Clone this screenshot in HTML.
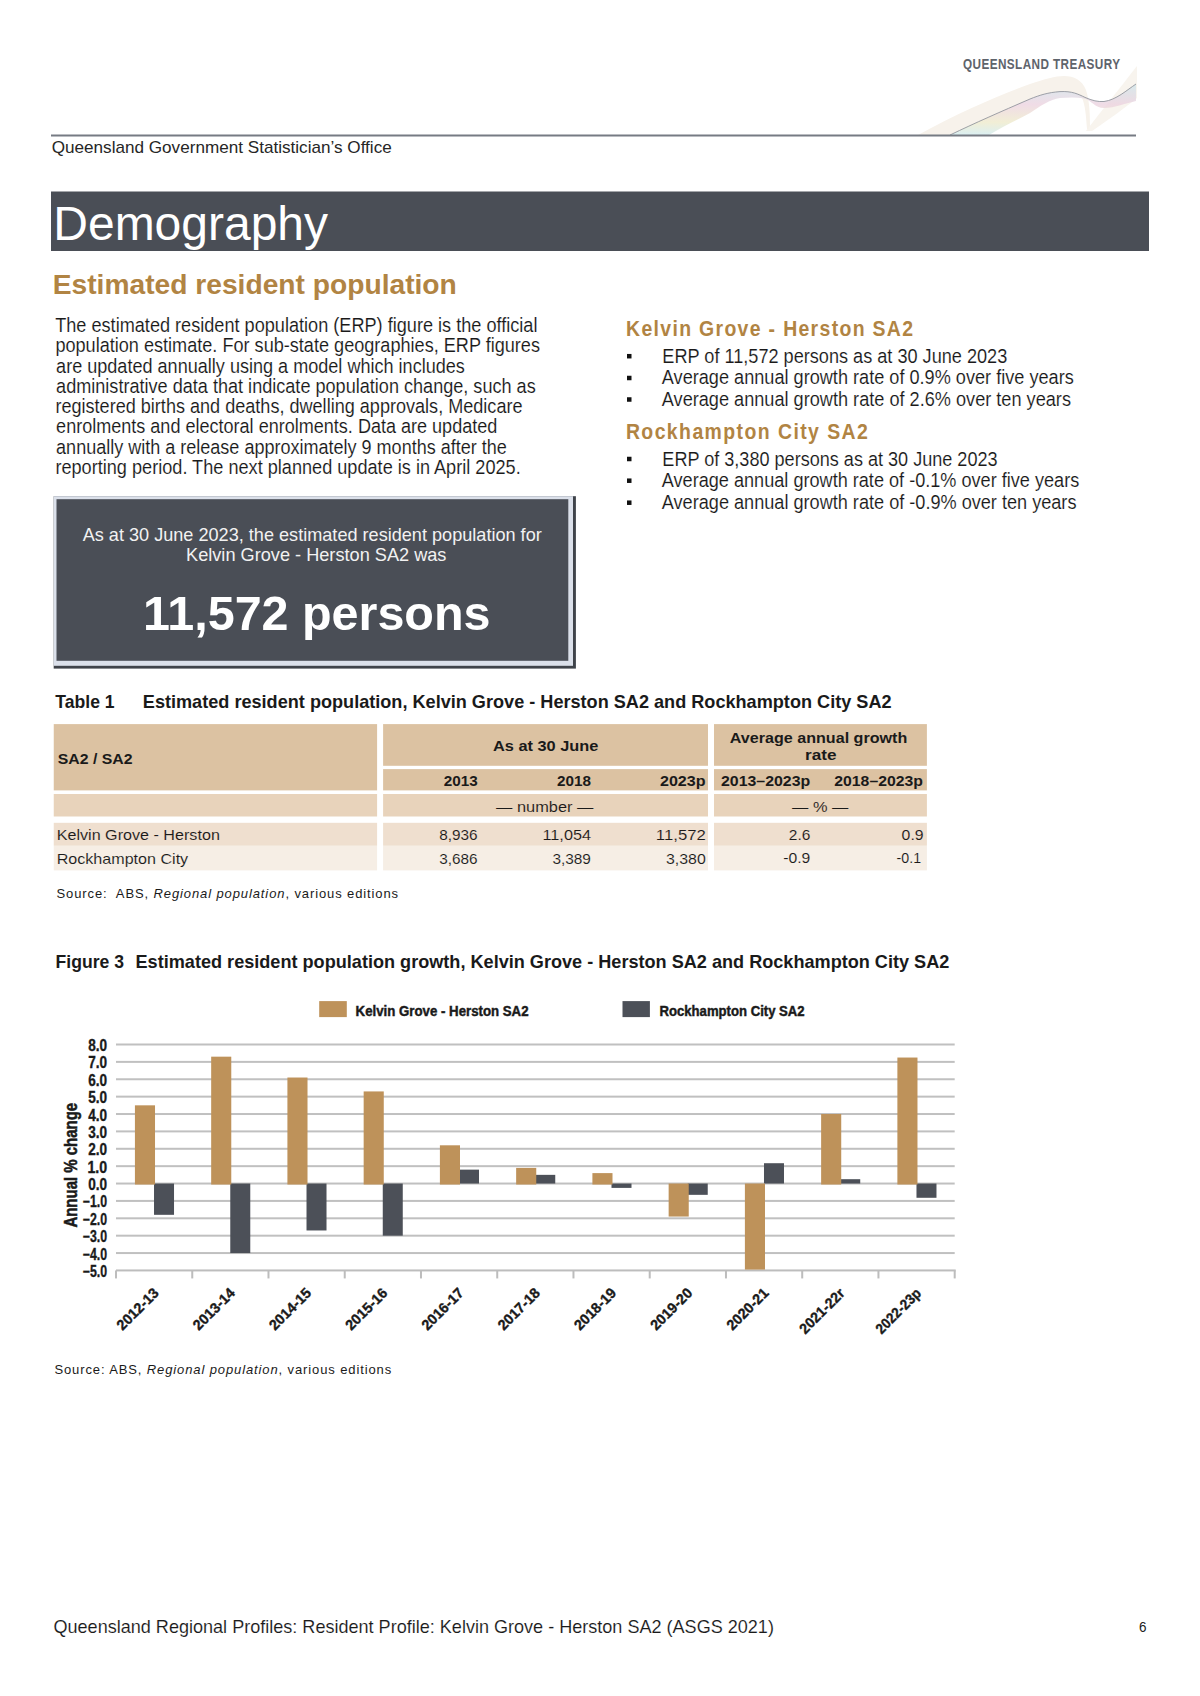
<!DOCTYPE html>
<html><head><meta charset="utf-8"><style>
html,body{margin:0;padding:0;background:#fff;overflow:hidden;width:1200px;height:1696px;}
svg{display:block;}
text{font-family:"Liberation Sans",sans-serif;white-space:pre;}
</style></head><body>
<svg width="1200" height="1696" viewBox="0 0 1200 1696">
<rect width="1200" height="1696" fill="#fff"/>

<defs>
 <linearGradient id="rib" x1="0" y1="0" x2="0" y2="1">
  <stop offset="0" stop-color="#cfe6ea"/>
  <stop offset="0.4" stop-color="#ecd3e0"/>
  <stop offset="0.75" stop-color="#eeeacb"/>
  <stop offset="1" stop-color="#d2ecef"/>
 </linearGradient>
</defs>
<path d="M918,135 C 960,112 1000,95 1030,84 C 1045,79 1055,76 1064,76 C 1074,76 1082,80 1086,90 C 1090,102 1090,118 1090,129 L 1087,129 C 1086,115 1085,104 1082,98 C 1076,92 1068,91 1060,91.6 C 1048,92.5 1040,95 1030,99 C 1000,112 975,123 950,135 Z" fill="#f7f2eb"/>
<path d="M1086,131 C 1100,113 1120,88 1137,66 L 1137,98 C 1125,108 1105,122 1092,131 Z" fill="#f8f4ee"/>
<path d="M950,135 C 975,123 1000,112 1030,99 C 1040,95 1048,92.5 1060,91.6 C 1072,91 1078,94 1085,97.4 C 1092,100.5 1098,102 1104,101.5 C 1116,100 1127,90 1136,84 L 1136,101 C 1126,103 1115,108 1104,108 C 1095,108 1091,100 1084,98.5 C 1076,97 1068,97.5 1060,98 C 1050,99.5 1040,106 1030,113 C 1015,121 1000,128 989,135 Z" fill="url(#rib)" opacity="0.8"/>
<path d="M950,135 C 975,123 1000,112 1030,99 C 1040,95 1048,92.5 1060,91.6 C 1072,91 1078,94 1085,97.4 C 1092,100.5 1098,102 1104,101.5 C 1116,100 1127,90 1136,84" fill="none" stroke="#878b93" stroke-width="1" opacity="0.8"/>

<text x="963.00" y="69.40" font-size="14" font-weight="700" fill="#5e636b" textLength="186.96" lengthAdjust="spacing" transform="translate(963.00 0) scale(0.84 1) translate(-963.00 0)">QUEENSLAND TREASURY</text>
<rect x="51" y="134.5" width="1085" height="2" fill="#767b83"/>
<text x="51.70" y="153.20" font-size="17" fill="#262626" textLength="340.06" lengthAdjust="spacingAndGlyphs">Queensland Government Statistician’s Office</text>
<rect x="51" y="191.5" width="1098" height="59.5" fill="#4a4e56"/>
<text x="53.30" y="239.50" font-size="48" fill="#ffffff" textLength="274.70" lengthAdjust="spacingAndGlyphs">Demography</text>
<text x="52.69" y="294.30" font-size="28" font-weight="700" fill="#b18443" textLength="404.12" lengthAdjust="spacingAndGlyphs">Estimated resident population</text>
<text x="55.20" y="332.00" font-size="20" fill="#1a1a1a" textLength="482.30" lengthAdjust="spacingAndGlyphs" stroke="#fff" stroke-width="0.12">The estimated resident population (ERP) figure is the official</text>
<text x="55.40" y="352.28" font-size="20" fill="#1a1a1a" textLength="484.60" lengthAdjust="spacingAndGlyphs" stroke="#fff" stroke-width="0.12">population estimate. For sub-state geographies, ERP figures</text>
<text x="56.10" y="372.56" font-size="20" fill="#1a1a1a" textLength="408.80" lengthAdjust="spacingAndGlyphs" stroke="#fff" stroke-width="0.12">are updated annually using a model which includes</text>
<text x="56.10" y="392.84" font-size="20" fill="#1a1a1a" textLength="479.60" lengthAdjust="spacingAndGlyphs" stroke="#fff" stroke-width="0.12">administrative data that indicate population change, such as</text>
<text x="55.40" y="413.12" font-size="20" fill="#1a1a1a" textLength="467.11" lengthAdjust="spacingAndGlyphs" stroke="#fff" stroke-width="0.12">registered births and deaths, dwelling approvals, Medicare</text>
<text x="56.10" y="433.40" font-size="20" fill="#1a1a1a" textLength="441.21" lengthAdjust="spacingAndGlyphs" stroke="#fff" stroke-width="0.12">enrolments and electoral enrolments. Data are updated</text>
<text x="56.10" y="453.68" font-size="20" fill="#1a1a1a" textLength="450.71" lengthAdjust="spacingAndGlyphs" stroke="#fff" stroke-width="0.12">annually with a release approximately 9 months after the</text>
<text x="55.40" y="473.96" font-size="20" fill="#1a1a1a" textLength="465.31" lengthAdjust="spacingAndGlyphs" stroke="#fff" stroke-width="0.12">reporting period. The next planned update is in April 2025.</text>
<rect x="53.7" y="496.2" width="522.2" height="172.4" fill="#3f434a"/>
<rect x="53.7" y="496.2" width="519.3" height="169.6" fill="#dbe0ea"/>
<rect x="56.5" y="499.2" width="511.8" height="161.6" fill="#4a4e56"/>
<text x="82.70" y="540.90" font-size="19" fill="#f2f2f2" textLength="459.06" lengthAdjust="spacingAndGlyphs">As at 30 June 2023, the estimated resident population for</text>
<text x="186.04" y="560.70" font-size="19" fill="#f2f2f2" textLength="260.43" lengthAdjust="spacingAndGlyphs">Kelvin Grove - Herston SA2 was</text>
<text x="143.03" y="629.70" font-size="49" font-weight="700" fill="#ffffff" textLength="347.50" lengthAdjust="spacingAndGlyphs">11,572 persons</text>
<text x="626.00" y="336.30" font-size="21.6" font-weight="700" fill="#b18443" textLength="318.79" lengthAdjust="spacing" transform="translate(627.00 0) scale(0.9 1) translate(-627.00 0)">Kelvin Grove - Herston SA2</text>
<text x="625.80" y="439.30" font-size="21.6" font-weight="700" fill="#b18443" textLength="268.79" lengthAdjust="spacing" transform="translate(626.80 0) scale(0.9 1) translate(-626.80 0)">Rockhampton City SA2</text>
<rect x="627" y="353.95" width="4.5" height="4.5" fill="#111"/>
<rect x="627" y="375.75" width="4.5" height="4.5" fill="#111"/>
<rect x="627" y="397.25" width="4.5" height="4.5" fill="#111"/>
<rect x="627" y="456.75" width="4.5" height="4.5" fill="#111"/>
<rect x="627" y="478.45" width="4.5" height="4.5" fill="#111"/>
<rect x="627" y="500.45" width="4.5" height="4.5" fill="#111"/>
<text x="662.37" y="362.50" font-size="19.5" fill="#1a1a1a" textLength="344.91" lengthAdjust="spacingAndGlyphs" stroke="#fff" stroke-width="0.12">ERP of 11,572 persons as at 30 June 2023</text>
<text x="661.80" y="384.00" font-size="19.5" fill="#1a1a1a" textLength="411.97" lengthAdjust="spacingAndGlyphs" stroke="#fff" stroke-width="0.12">Average annual growth rate of 0.9% over five years</text>
<text x="661.80" y="405.50" font-size="19.5" fill="#1a1a1a" textLength="409.17" lengthAdjust="spacingAndGlyphs" stroke="#fff" stroke-width="0.12">Average annual growth rate of 2.6% over ten years</text>
<text x="662.37" y="465.50" font-size="19.5" fill="#1a1a1a" textLength="335.21" lengthAdjust="spacingAndGlyphs" stroke="#fff" stroke-width="0.12">ERP of 3,380 persons as at 30 June 2023</text>
<text x="661.80" y="487.00" font-size="19.5" fill="#1a1a1a" textLength="417.47" lengthAdjust="spacingAndGlyphs" stroke="#fff" stroke-width="0.12">Average annual growth rate of -0.1% over five years</text>
<text x="661.80" y="508.50" font-size="19.5" fill="#1a1a1a" textLength="414.67" lengthAdjust="spacingAndGlyphs" stroke="#fff" stroke-width="0.12">Average annual growth rate of -0.9% over ten years</text>
<text x="55.30" y="707.70" font-size="19" font-weight="700" fill="#1a1a1a" textLength="59.30" lengthAdjust="spacingAndGlyphs">Table 1</text>
<text x="142.80" y="707.70" font-size="19" font-weight="700" fill="#1a1a1a" textLength="748.74" lengthAdjust="spacingAndGlyphs">Estimated resident population, Kelvin Grove - Herston SA2 and Rockhampton City SA2</text>
<rect x="53.75" y="724.1" width="323.35" height="66.30" fill="#dcc2a2"/>
<rect x="383.1" y="724.1" width="324.90" height="41.70" fill="#dcc2a2"/>
<rect x="383.1" y="769.1" width="324.90" height="21.30" fill="#dcc2a2"/>
<rect x="714" y="724.1" width="212.90" height="41.70" fill="#dcc2a2"/>
<rect x="714" y="769.1" width="212.90" height="21.30" fill="#dcc2a2"/>
<rect x="53.75" y="794" width="323.35" height="22.50" fill="#e8d3bb"/>
<rect x="53.75" y="822.8" width="323.35" height="23.00" fill="#efdfcf"/>
<rect x="53.75" y="845.8" width="323.35" height="24.60" fill="#f6eee5"/>
<rect x="383.1" y="794" width="324.90" height="22.50" fill="#e8d3bb"/>
<rect x="383.1" y="822.8" width="324.90" height="23.00" fill="#efdfcf"/>
<rect x="383.1" y="845.8" width="324.90" height="24.60" fill="#f6eee5"/>
<rect x="714" y="794" width="212.90" height="22.50" fill="#e8d3bb"/>
<rect x="714" y="822.8" width="212.90" height="23.00" fill="#efdfcf"/>
<rect x="714" y="845.8" width="212.90" height="24.60" fill="#f6eee5"/>
<text x="57.80" y="764.30" font-size="15" font-weight="700" fill="#1a1a1a" textLength="74.76" lengthAdjust="spacingAndGlyphs">SA2 / SA2</text>
<text x="493.00" y="751.40" font-size="15" font-weight="700" fill="#1a1a1a" textLength="105.37" lengthAdjust="spacingAndGlyphs">As at 30 June</text>
<text x="729.80" y="742.80" font-size="15" font-weight="700" fill="#1a1a1a" textLength="177.47" lengthAdjust="spacingAndGlyphs">Average annual growth</text>
<text x="805.00" y="759.80" font-size="15" font-weight="700" fill="#1a1a1a" textLength="31.49" lengthAdjust="spacingAndGlyphs">rate</text>
<text x="443.70" y="786.00" font-size="15" font-weight="700" fill="#1a1a1a" textLength="33.95" lengthAdjust="spacingAndGlyphs">2013</text>
<text x="557.00" y="786.00" font-size="15" font-weight="700" fill="#1a1a1a" textLength="33.95" lengthAdjust="spacingAndGlyphs">2018</text>
<text x="660.00" y="786.00" font-size="15" font-weight="700" fill="#1a1a1a" textLength="45.57" lengthAdjust="spacingAndGlyphs">2023p</text>
<text x="721.00" y="785.90" font-size="15" font-weight="700" fill="#1a1a1a" textLength="89.17" lengthAdjust="spacingAndGlyphs">2013–2023p</text>
<text x="834.30" y="785.90" font-size="15" font-weight="700" fill="#1a1a1a" textLength="88.57" lengthAdjust="spacingAndGlyphs">2018–2023p</text>
<text x="496.00" y="812.00" font-size="15" fill="#1a1a1a" textLength="97.40" lengthAdjust="spacingAndGlyphs" stroke="#e8d3bb" stroke-width="0.1">— number —</text>
<text x="792.10" y="812.10" font-size="15" fill="#1a1a1a" textLength="56.30" lengthAdjust="spacingAndGlyphs" stroke="#e8d3bb" stroke-width="0.1">— % —</text>
<text x="56.72" y="839.75" font-size="15" fill="#1a1a1a" textLength="163.14" lengthAdjust="spacingAndGlyphs" stroke="#efdfcf" stroke-width="0.1">Kelvin Grove - Herston</text>
<text x="439.30" y="839.60" font-size="15" fill="#1a1a1a" textLength="38.35" lengthAdjust="spacingAndGlyphs" stroke="#efdfcf" stroke-width="0.1">8,936</text>
<text x="542.52" y="839.60" font-size="15" fill="#1a1a1a" textLength="48.45" lengthAdjust="spacingAndGlyphs" stroke="#efdfcf" stroke-width="0.1">11,054</text>
<text x="655.89" y="839.60" font-size="15" fill="#1a1a1a" textLength="49.90" lengthAdjust="spacingAndGlyphs" stroke="#efdfcf" stroke-width="0.1">11,572</text>
<text x="788.80" y="839.60" font-size="15" fill="#1a1a1a" textLength="21.55" lengthAdjust="spacingAndGlyphs" stroke="#efdfcf" stroke-width="0.1">2.6</text>
<text x="901.60" y="839.60" font-size="15" fill="#1a1a1a" textLength="21.96" lengthAdjust="spacingAndGlyphs" stroke="#efdfcf" stroke-width="0.1">0.9</text>
<text x="56.73" y="864.30" font-size="15" fill="#1a1a1a" textLength="131.44" lengthAdjust="spacingAndGlyphs" stroke="#f6eee5" stroke-width="0.1">Rockhampton City</text>
<text x="439.30" y="863.60" font-size="15" fill="#1a1a1a" textLength="38.35" lengthAdjust="spacingAndGlyphs" stroke="#f6eee5" stroke-width="0.1">3,686</text>
<text x="552.40" y="863.60" font-size="15" fill="#1a1a1a" textLength="38.55" lengthAdjust="spacingAndGlyphs" stroke="#f6eee5" stroke-width="0.1">3,389</text>
<text x="666.00" y="863.60" font-size="15" fill="#1a1a1a" textLength="39.76" lengthAdjust="spacingAndGlyphs" stroke="#f6eee5" stroke-width="0.1">3,380</text>
<text x="783.30" y="863.40" font-size="15" fill="#1a1a1a" textLength="27.06" lengthAdjust="spacingAndGlyphs" stroke="#f6eee5" stroke-width="0.1">-0.9</text>
<text x="896.60" y="863.40" font-size="15" fill="#1a1a1a" textLength="24.52" lengthAdjust="spacingAndGlyphs" stroke="#f6eee5" stroke-width="0.1">-0.1</text>
<text x="56.50" y="897.50" font-size="13" fill="#1a1a1a" textLength="341.60" lengthAdjust="spacing">Source:  ABS, <tspan font-style="italic">Regional population</tspan>, various editions</text>
<text x="55.57" y="967.50" font-size="19" font-weight="700" fill="#1a1a1a" textLength="68.45" lengthAdjust="spacingAndGlyphs">Figure 3</text>
<text x="135.55" y="967.50" font-size="19" font-weight="700" fill="#1a1a1a" textLength="813.79" lengthAdjust="spacingAndGlyphs">Estimated resident population growth, Kelvin Grove - Herston SA2 and Rockhampton City SA2</text>
<rect x="319.2" y="1001.1" width="27.6" height="16" fill="#be925a"/>
<rect x="622.5" y="1001.1" width="27.4" height="16" fill="#4c5058"/>
<text x="355.60" y="1016.00" font-size="14.5" font-weight="700" fill="#1a1a1a" textLength="172.96" lengthAdjust="spacingAndGlyphs" stroke="#1a1a1a" stroke-width="0.45">Kelvin Grove - Herston SA2</text>
<text x="659.50" y="1016.00" font-size="14.5" font-weight="700" fill="#1a1a1a" textLength="145.16" lengthAdjust="spacingAndGlyphs" stroke="#1a1a1a" stroke-width="0.45">Rockhampton City SA2</text>
<rect x="116" y="1043.50" width="838.70" height="2" fill="#c0c0c0"/>
<rect x="116" y="1060.88" width="838.70" height="2" fill="#c0c0c0"/>
<rect x="116" y="1078.26" width="838.70" height="2" fill="#c0c0c0"/>
<rect x="116" y="1095.64" width="838.70" height="2" fill="#c0c0c0"/>
<rect x="116" y="1113.02" width="838.70" height="2" fill="#c0c0c0"/>
<rect x="116" y="1130.40" width="838.70" height="2" fill="#c0c0c0"/>
<rect x="116" y="1147.78" width="838.70" height="2" fill="#c0c0c0"/>
<rect x="116" y="1165.16" width="838.70" height="2" fill="#c0c0c0"/>
<rect x="116" y="1182.54" width="838.70" height="2" fill="#c0c0c0"/>
<rect x="116" y="1199.92" width="838.70" height="2" fill="#c0c0c0"/>
<rect x="116" y="1217.30" width="838.70" height="2" fill="#c0c0c0"/>
<rect x="116" y="1234.68" width="838.70" height="2" fill="#c0c0c0"/>
<rect x="116" y="1252.06" width="838.70" height="2" fill="#c0c0c0"/>
<rect x="116" y="1269.44" width="839.70" height="2" fill="#bdbdbd"/>
<rect x="115.00" y="1270.44" width="2" height="8" fill="#bdbdbd"/>
<rect x="191.25" y="1270.44" width="2" height="8" fill="#bdbdbd"/>
<rect x="267.49" y="1270.44" width="2" height="8" fill="#bdbdbd"/>
<rect x="343.74" y="1270.44" width="2" height="8" fill="#bdbdbd"/>
<rect x="419.98" y="1270.44" width="2" height="8" fill="#bdbdbd"/>
<rect x="496.23" y="1270.44" width="2" height="8" fill="#bdbdbd"/>
<rect x="572.47" y="1270.44" width="2" height="8" fill="#bdbdbd"/>
<rect x="648.72" y="1270.44" width="2" height="8" fill="#bdbdbd"/>
<rect x="724.96" y="1270.44" width="2" height="8" fill="#bdbdbd"/>
<rect x="801.21" y="1270.44" width="2" height="8" fill="#bdbdbd"/>
<rect x="877.45" y="1270.44" width="2" height="8" fill="#bdbdbd"/>
<rect x="953.70" y="1270.44" width="2" height="8" fill="#bdbdbd"/>
<rect x="154.02" y="1183.54" width="20" height="31.28" fill="#4c5058"/>
<rect x="134.92" y="1105.33" width="20.1" height="79.21" fill="#be925a"/>
<rect x="230.27" y="1183.54" width="20" height="69.52" fill="#4c5058"/>
<rect x="211.17" y="1056.67" width="20.1" height="127.87" fill="#be925a"/>
<rect x="306.51" y="1183.54" width="20" height="46.93" fill="#4c5058"/>
<rect x="287.41" y="1077.52" width="20.1" height="107.02" fill="#be925a"/>
<rect x="382.76" y="1183.54" width="20" height="52.14" fill="#4c5058"/>
<rect x="363.66" y="1091.43" width="20.1" height="93.11" fill="#be925a"/>
<rect x="459.00" y="1169.64" width="20" height="13.90" fill="#4c5058"/>
<rect x="439.90" y="1145.30" width="20.1" height="39.24" fill="#be925a"/>
<rect x="535.25" y="1174.85" width="20" height="8.69" fill="#4c5058"/>
<rect x="516.15" y="1167.90" width="20.1" height="16.64" fill="#be925a"/>
<rect x="611.50" y="1183.54" width="20" height="4.35" fill="#4c5058"/>
<rect x="592.40" y="1173.11" width="20.1" height="11.43" fill="#be925a"/>
<rect x="687.74" y="1183.54" width="20" height="11.30" fill="#4c5058"/>
<rect x="668.64" y="1183.54" width="20.1" height="33.02" fill="#be925a"/>
<rect x="763.99" y="1163.21" width="20" height="20.33" fill="#4c5058"/>
<rect x="744.89" y="1183.54" width="20.1" height="86.03" fill="#be925a"/>
<rect x="840.23" y="1179.19" width="20" height="4.35" fill="#4c5058"/>
<rect x="821.13" y="1114.02" width="20.1" height="70.52" fill="#be925a"/>
<rect x="916.48" y="1183.54" width="20" height="14.25" fill="#4c5058"/>
<rect x="897.38" y="1057.54" width="20.1" height="127.00" fill="#be925a"/>
<text x="88.30" y="1051.00" font-size="16.5" font-weight="700" fill="#1a1a1a" textLength="18.85" lengthAdjust="spacingAndGlyphs" stroke="#1a1a1a" stroke-width="0.35">8.0</text>
<text x="88.30" y="1068.38" font-size="16.5" font-weight="700" fill="#1a1a1a" textLength="18.85" lengthAdjust="spacingAndGlyphs" stroke="#1a1a1a" stroke-width="0.35">7.0</text>
<text x="88.30" y="1085.76" font-size="16.5" font-weight="700" fill="#1a1a1a" textLength="18.85" lengthAdjust="spacingAndGlyphs" stroke="#1a1a1a" stroke-width="0.35">6.0</text>
<text x="88.30" y="1103.14" font-size="16.5" font-weight="700" fill="#1a1a1a" textLength="18.85" lengthAdjust="spacingAndGlyphs" stroke="#1a1a1a" stroke-width="0.35">5.0</text>
<text x="88.30" y="1120.52" font-size="16.5" font-weight="700" fill="#1a1a1a" textLength="18.85" lengthAdjust="spacingAndGlyphs" stroke="#1a1a1a" stroke-width="0.35">4.0</text>
<text x="88.30" y="1137.90" font-size="16.5" font-weight="700" fill="#1a1a1a" textLength="18.85" lengthAdjust="spacingAndGlyphs" stroke="#1a1a1a" stroke-width="0.35">3.0</text>
<text x="88.30" y="1155.28" font-size="16.5" font-weight="700" fill="#1a1a1a" textLength="18.85" lengthAdjust="spacingAndGlyphs" stroke="#1a1a1a" stroke-width="0.35">2.0</text>
<text x="87.44" y="1172.66" font-size="16.5" font-weight="700" fill="#1a1a1a" textLength="19.71" lengthAdjust="spacingAndGlyphs" stroke="#1a1a1a" stroke-width="0.35">1.0</text>
<text x="88.30" y="1190.04" font-size="16.5" font-weight="700" fill="#1a1a1a" textLength="18.85" lengthAdjust="spacingAndGlyphs" stroke="#1a1a1a" stroke-width="0.35">0.0</text>
<text x="82.80" y="1207.42" font-size="16.5" font-weight="700" fill="#1a1a1a" textLength="24.33" lengthAdjust="spacingAndGlyphs" stroke="#1a1a1a" stroke-width="0.35">−1.0</text>
<text x="82.80" y="1224.80" font-size="16.5" font-weight="700" fill="#1a1a1a" textLength="24.33" lengthAdjust="spacingAndGlyphs" stroke="#1a1a1a" stroke-width="0.35">−2.0</text>
<text x="82.80" y="1242.18" font-size="16.5" font-weight="700" fill="#1a1a1a" textLength="24.33" lengthAdjust="spacingAndGlyphs" stroke="#1a1a1a" stroke-width="0.35">−3.0</text>
<text x="82.80" y="1259.56" font-size="16.5" font-weight="700" fill="#1a1a1a" textLength="24.33" lengthAdjust="spacingAndGlyphs" stroke="#1a1a1a" stroke-width="0.35">−4.0</text>
<text x="82.80" y="1276.94" font-size="16.5" font-weight="700" fill="#1a1a1a" textLength="24.33" lengthAdjust="spacingAndGlyphs" stroke="#1a1a1a" stroke-width="0.35">−5.0</text>
<text x="0.00" y="0.00" font-size="17.5" font-weight="700" fill="#1a1a1a" textLength="124.77" lengthAdjust="spacingAndGlyphs" transform="translate(76.7 1227.6) rotate(-90)" stroke="#1a1a1a" stroke-width="0.5">Annual % change</text>
<text x="0.00" y="0.00" font-size="14.5" font-weight="700" fill="#1a1a1a" textLength="52.56" lengthAdjust="spacingAndGlyphs" transform="translate(159.62 1294.00) rotate(-45) translate(-52.5 0)" stroke="#1a1a1a" stroke-width="0.35">2012-13</text>
<text x="0.00" y="0.00" font-size="14.5" font-weight="700" fill="#1a1a1a" textLength="52.56" lengthAdjust="spacingAndGlyphs" transform="translate(235.87 1294.00) rotate(-45) translate(-52.5 0)" stroke="#1a1a1a" stroke-width="0.35">2013-14</text>
<text x="0.00" y="0.00" font-size="14.5" font-weight="700" fill="#1a1a1a" textLength="52.56" lengthAdjust="spacingAndGlyphs" transform="translate(312.11 1294.00) rotate(-45) translate(-52.5 0)" stroke="#1a1a1a" stroke-width="0.35">2014-15</text>
<text x="0.00" y="0.00" font-size="14.5" font-weight="700" fill="#1a1a1a" textLength="52.56" lengthAdjust="spacingAndGlyphs" transform="translate(388.36 1294.00) rotate(-45) translate(-52.5 0)" stroke="#1a1a1a" stroke-width="0.35">2015-16</text>
<text x="0.00" y="0.00" font-size="14.5" font-weight="700" fill="#1a1a1a" textLength="52.56" lengthAdjust="spacingAndGlyphs" transform="translate(464.60 1294.00) rotate(-45) translate(-52.5 0)" stroke="#1a1a1a" stroke-width="0.35">2016-17</text>
<text x="0.00" y="0.00" font-size="14.5" font-weight="700" fill="#1a1a1a" textLength="52.56" lengthAdjust="spacingAndGlyphs" transform="translate(540.85 1294.00) rotate(-45) translate(-52.5 0)" stroke="#1a1a1a" stroke-width="0.35">2017-18</text>
<text x="0.00" y="0.00" font-size="14.5" font-weight="700" fill="#1a1a1a" textLength="52.56" lengthAdjust="spacingAndGlyphs" transform="translate(617.10 1294.00) rotate(-45) translate(-52.5 0)" stroke="#1a1a1a" stroke-width="0.35">2018-19</text>
<text x="0.00" y="0.00" font-size="14.5" font-weight="700" fill="#1a1a1a" textLength="52.56" lengthAdjust="spacingAndGlyphs" transform="translate(693.34 1294.00) rotate(-45) translate(-52.5 0)" stroke="#1a1a1a" stroke-width="0.35">2019-20</text>
<text x="0.00" y="0.00" font-size="14.5" font-weight="700" fill="#1a1a1a" textLength="52.56" lengthAdjust="spacingAndGlyphs" transform="translate(769.59 1294.00) rotate(-45) translate(-52.5 0)" stroke="#1a1a1a" stroke-width="0.35">2020-21</text>
<text x="0.00" y="0.00" font-size="14.5" font-weight="700" fill="#1a1a1a" textLength="57.15" lengthAdjust="spacingAndGlyphs" transform="translate(845.83 1294.00) rotate(-45) translate(-57.5 0)" stroke="#1a1a1a" stroke-width="0.35">2021-22r</text>
<text x="0.00" y="0.00" font-size="14.5" font-weight="700" fill="#1a1a1a" textLength="57.37" lengthAdjust="spacingAndGlyphs" transform="translate(922.08 1294.00) rotate(-45) translate(-57.5 0)" stroke="#1a1a1a" stroke-width="0.35">2022-23p</text>
<text x="54.40" y="1374.00" font-size="13" fill="#1a1a1a" textLength="336.80" lengthAdjust="spacing">Source: ABS, <tspan font-style="italic">Regional population</tspan>, various editions</text>
<text x="53.50" y="1633.20" font-size="19" fill="#1a1a1a" textLength="720.41" lengthAdjust="spacingAndGlyphs" stroke="#fff" stroke-width="0.12">Queensland Regional Profiles: Resident Profile: Kelvin Grove - Herston SA2 (ASGS 2021)</text>
<text x="1138.90" y="1631.80" font-size="14" fill="#1a1a1a" textLength="7.49" lengthAdjust="spacingAndGlyphs">6</text>
</svg>
</body></html>
